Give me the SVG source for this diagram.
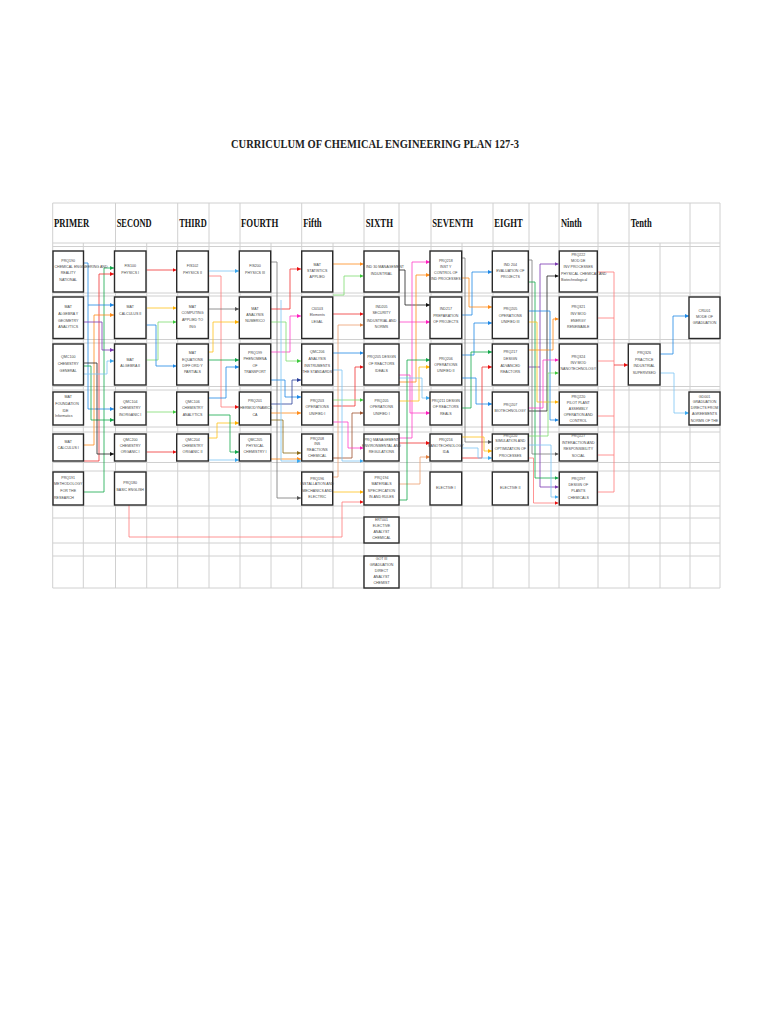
<svg xmlns="http://www.w3.org/2000/svg" width="768" height="1024" viewBox="0 0 768 1024">
<style>
.bg{fill:#ffffff}
.g{stroke:#d0d0d0;stroke-width:1;fill:none}
.box{fill:#ffffff;stroke:#2a2a2a;stroke-width:1.4}
.t{font-family:"Liberation Sans",Arial,sans-serif;font-size:3.6px;fill:#444444;text-anchor:middle}
.tl{text-anchor:start}
.h{font-family:"Liberation Serif","Times New Roman",serif;font-weight:bold;font-size:13.5px;fill:#111111}
.title{font-family:"Liberation Serif","Times New Roman",serif;font-weight:bold;font-size:13px;fill:#222222}
.c{fill:none;stroke-width:0.8}
.red{stroke:#f03030;marker-end:url(#a-red)}
.pink{stroke:#ff7a7a;marker-end:url(#a-red)}
.blue{stroke:#1e88e5;marker-end:url(#a-blue)}
.lblue{stroke:#7cc4f4;marker-end:url(#a-lblue)}
.navy{stroke:#2a3f9a;marker-end:url(#a-navy)}
.green{stroke:#12a84a;marker-end:url(#a-green)}
.lgreen{stroke:#7ddc6e;marker-end:url(#a-lgreen)}
.orange{stroke:#ff8c1a;marker-end:url(#a-orange)}
.salmon{stroke:#eca070;marker-end:url(#a-salmon)}
.brown{stroke:#a0522d;marker-end:url(#a-brown)}
.olive{stroke:#8b6a14;marker-end:url(#a-olive)}
.yellow{stroke:#ffc21a;marker-end:url(#a-yellow)}
.magenta{stroke:#ff40c8;marker-end:url(#a-magenta)}
.purple{stroke:#7a36b0;marker-end:url(#a-purple)}
.black{stroke:#222222;marker-end:url(#a-black)}
.gray{stroke:#777777;marker-end:url(#a-gray)}
.nm{marker-end:none}
</style>
<defs>
<marker id="a-red" markerUnits="userSpaceOnUse" markerWidth="4" markerHeight="4" refX="4" refY="2" orient="auto"><path d="M0,0 L4,2 L0,4 z" fill="#e81010"/></marker>
<marker id="a-blue" markerUnits="userSpaceOnUse" markerWidth="4" markerHeight="4" refX="4" refY="2" orient="auto"><path d="M0,0 L4,2 L0,4 z" fill="#1e88e5"/></marker>
<marker id="a-lblue" markerUnits="userSpaceOnUse" markerWidth="4" markerHeight="4" refX="4" refY="2" orient="auto"><path d="M0,0 L4,2 L0,4 z" fill="#3aa8f0"/></marker>
<marker id="a-navy" markerUnits="userSpaceOnUse" markerWidth="4" markerHeight="4" refX="4" refY="2" orient="auto"><path d="M0,0 L4,2 L0,4 z" fill="#2a3f9a"/></marker>
<marker id="a-green" markerUnits="userSpaceOnUse" markerWidth="4" markerHeight="4" refX="4" refY="2" orient="auto"><path d="M0,0 L4,2 L0,4 z" fill="#12a84a"/></marker>
<marker id="a-lgreen" markerUnits="userSpaceOnUse" markerWidth="4" markerHeight="4" refX="4" refY="2" orient="auto"><path d="M0,0 L4,2 L0,4 z" fill="#3cc83c"/></marker>
<marker id="a-orange" markerUnits="userSpaceOnUse" markerWidth="4" markerHeight="4" refX="4" refY="2" orient="auto"><path d="M0,0 L4,2 L0,4 z" fill="#ff8c1a"/></marker>
<marker id="a-salmon" markerUnits="userSpaceOnUse" markerWidth="4" markerHeight="4" refX="4" refY="2" orient="auto"><path d="M0,0 L4,2 L0,4 z" fill="#e08040"/></marker>
<marker id="a-brown" markerUnits="userSpaceOnUse" markerWidth="4" markerHeight="4" refX="4" refY="2" orient="auto"><path d="M0,0 L4,2 L0,4 z" fill="#a0522d"/></marker>
<marker id="a-olive" markerUnits="userSpaceOnUse" markerWidth="4" markerHeight="4" refX="4" refY="2" orient="auto"><path d="M0,0 L4,2 L0,4 z" fill="#8b6a14"/></marker>
<marker id="a-yellow" markerUnits="userSpaceOnUse" markerWidth="4" markerHeight="4" refX="4" refY="2" orient="auto"><path d="M0,0 L4,2 L0,4 z" fill="#ffb000"/></marker>
<marker id="a-magenta" markerUnits="userSpaceOnUse" markerWidth="4" markerHeight="4" refX="4" refY="2" orient="auto"><path d="M0,0 L4,2 L0,4 z" fill="#ff20c0"/></marker>
<marker id="a-purple" markerUnits="userSpaceOnUse" markerWidth="4" markerHeight="4" refX="4" refY="2" orient="auto"><path d="M0,0 L4,2 L0,4 z" fill="#7a36b0"/></marker>
<marker id="a-black" markerUnits="userSpaceOnUse" markerWidth="4" markerHeight="4" refX="4" refY="2" orient="auto"><path d="M0,0 L4,2 L0,4 z" fill="#111111"/></marker>
<marker id="a-gray" markerUnits="userSpaceOnUse" markerWidth="4" markerHeight="4" refX="4" refY="2" orient="auto"><path d="M0,0 L4,2 L0,4 z" fill="#555555"/></marker>
</defs>
<rect class="bg" x="0" y="0" width="768" height="1024"/>
<text class="title" x="231" y="148" textLength="288" lengthAdjust="spacingAndGlyphs">CURRICULUM OF CHEMICAL ENGINEERING PLAN 127-3</text>
<g id="grid">
<path class="g" d="M52.7,203 H720 M52.7,243 H720 M52.7,246.5 H720 M52.7,293 H720 M52.7,296 H720 M52.7,339.5 H720 M52.7,343 H720 M52.7,386.5 H720 M52.7,390 H720 M52.7,427 H720 M52.7,432 H720 M52.7,462.5 H720 M52.7,471 H720 M52.7,506 H720 M52.7,518 H720 M52.7,543 H720 M52.7,556 H720 M52.7,588 H720"/>
<path class="g" d="M52.7,203 V588 M115.5,203 V588 M177.7,203 V588 M209,203 V588 M240,203 V588 M301.7,203 V588 M364,203 V588 M399,203 V588 M431,203 V588 M493,203 V588 M529,203 V588 M559,203 V588 M598,203 V588 M629,203 V588 M690,203 V588 M720,203 V588"/>
<path class="g" d="M83.3,243 V588 M146.7,243 V588 M271,243 V588 M333,243 V588 M462,243 V588 M660,243 V588"/>
</g>
<g id="headers">
<text class="h" x="54" y="226.5" textLength="35.3" lengthAdjust="spacingAndGlyphs">PRIMER</text>
<text class="h" x="116.7" y="226.5" textLength="35" lengthAdjust="spacingAndGlyphs">SECOND</text>
<text class="h" x="179.3" y="226.5" textLength="27.4" lengthAdjust="spacingAndGlyphs">THIRD</text>
<text class="h" x="241" y="226.5" textLength="37.3" lengthAdjust="spacingAndGlyphs">FOURTH</text>
<text class="h" x="303.3" y="226.5" textLength="18.4" lengthAdjust="spacingAndGlyphs">Fifth</text>
<text class="h" x="365.7" y="226.5" textLength="27.3" lengthAdjust="spacingAndGlyphs">SIXTH</text>
<text class="h" x="432.3" y="226.5" textLength="41" lengthAdjust="spacingAndGlyphs">SEVENTH</text>
<text class="h" x="494.3" y="226.5" textLength="28.4" lengthAdjust="spacingAndGlyphs">EIGHT</text>
<text class="h" x="561" y="226.5" textLength="20.7" lengthAdjust="spacingAndGlyphs">Ninth</text>
<text class="h" x="630.7" y="226.5" textLength="21" lengthAdjust="spacingAndGlyphs">Tenth</text>
</g>
<g id="connectors">
<path class="c green" d="M84,492 H104 V268 H114"/>
<path class="c red" d="M84,461 H99 V274 H114"/>
<path class="c blue" d="M84,263 H88 V305 H114"/>
<path class="c blue" d="M88,305 V409 H114"/>
<path class="c orange" d="M84,445 H94 V315 H114"/>
<path class="c purple" d="M84,322 H102 V350 H114"/>
<path class="c green" d="M84,366 H91 V420 H114"/>
<path class="c black" d="M84,363 H97 V454 H114"/>
<path class="c lblue" d="M84,374 H107 V361 H114"/>
<path class="c red" d="M146.7,270 H176.5"/>
<path class="c yellow" d="M146.7,308 H176.5"/>
<path class="c lgreen" d="M146.7,360 H158 V322 H176.5"/>
<path class="c blue" d="M146.7,325 H156 V366 H176.5"/>
<path class="c lgreen" d="M146.7,412 H176.5"/>
<path class="c red" d="M146.7,452 H176.5"/>
<path class="c pink" d="M129,505 V537 H342 V502 H363.5"/>
<path class="c lblue" d="M209,271 H239"/>
<path class="c pink" d="M209,276 H221 V407 H239"/>
<path class="c gray" d="M209,309 H239"/>
<path class="c yellow" d="M209,352 H213 V322 H239"/>
<path class="c green" d="M209,360 H239"/>
<path class="c blue" d="M209,398 H226 V367 H239"/>
<path class="c yellow" d="M209,438 H217 V423 H239"/>
<path class="c green" d="M209,415 H230 V452 H239"/>
<path class="c lblue" d="M209,460 H239"/>
<path class="c gray" d="M271,262 H277 V498 H301"/>
<path class="c red" d="M271,309 H290 V269 H301"/>
<path class="c magenta" d="M271,352 H290 V316 H301"/>
<path class="c lgreen" d="M271,322 H286 V361 H301"/>
<path class="c blue" d="M271,380 H285 V397 H301"/>
<path class="c navy" d="M271,404 H292 V380 H301"/>
<path class="c orange" d="M271,413 H301"/>
<path class="c olive" d="M271,420 H283 V453 H301"/>
<path class="c orange" d="M271,459 H301"/>
<path class="c lblue" d="M281,300 V461 H301"/>
<path class="c orange" d="M333,264 H363.5"/>
<path class="c lgreen" d="M333,295 H344 V276 H363.5"/>
<path class="c red" d="M333,314 H363.5"/>
<path class="c salmon" d="M333,477 H338 V325 H363.5"/>
<path class="c blue" d="M333,353 H363.5"/>
<path class="c red" d="M333,406 H355 V367 H363.5"/>
<path class="c lgreen" d="M333,400 H363.5"/>
<path class="c brown" d="M333,458 H352 V413 H363.5"/>
<path class="c magenta" d="M333,422 H348 V448 H363.5"/>
<path class="c lblue" d="M333,370 H342 V461 H363.5"/>
<path class="c yellow" d="M333,492 H363.5"/>
<path class="c black" d="M399,270 H405 V305 H430"/>
<path class="c magenta" d="M399,322 H430"/>
<path class="c magenta" d="M399,438 H412 V262 H430"/>
<path class="c orange" d="M399,382 H416 V275 H430"/>
<path class="c salmon" d="M399,484 H420 V457 H430"/>
<path class="c red" d="M399,443 H430"/>
<path class="c green" d="M399,500 H407 V360 H430"/>
<path class="c yellow" d="M399,401 H419 V367 H430"/>
<path class="c magenta" d="M399,375 H410 V413 H430"/>
<path class="c lblue" d="M399,378 H422 V398 H430"/>
<path class="c blue" d="M462,315 H472 V272 H492"/>
<path class="c orange" d="M462,278 H469 V307 H492"/>
<path class="c blue" d="M462,355 H474 V323 H492"/>
<path class="c gray" d="M462,258 H465 V442 H492"/>
<path class="c green" d="M462,408 H471 V352 H492"/>
<path class="c red" d="M462,458 H482 V367 H492"/>
<path class="c blue" d="M462,378 H476 V404 H492"/>
<path class="c lblue" d="M462,448 H478 V458 H492"/>
<path class="c yellow" d="M462,437 H484 V451 H492"/>
<path class="c purple" d="M529,367 H540 V264 H558.5"/>
<path class="c purple" d="M540,367 V487 H558.5"/>
<path class="c black" d="M529,411 H547 V276 H558.5"/>
<path class="c gray" d="M529,260 H532 V454 H558.5"/>
<path class="c green" d="M529,282 H535 V478 H558.5"/>
<path class="c orange" d="M529,350 H553 V319 H558.5"/>
<path class="c yellow" d="M529,322 H537 V402 H558.5"/>
<path class="c blue" d="M529,311 H550 V420 H558.5"/>
<path class="c magenta" d="M529,408 H543 V360 H558.5"/>
<path class="c lgreen" d="M529,436 H548 V373 H558.5"/>
<path class="c lblue" d="M529,445 H551 V497 H558.5"/>
<path class="c pink" d="M529,458 H533.5 V503 H558.5"/>
<path class="c pink nm" d="M598,272 H614 M598,318 H614 M598,361 H614 M598,416 H614 M598,455 H614 M598,492 H614 M614,272 V492"/>
<path class="c red" d="M614,365 H628"/>
<path class="c blue" d="M660,354 H673 V316 H689"/>
<path class="c lblue" d="M660,373 H674 V413 H689"/>
</g>
<g id="n-prq190"><rect class="box" x="53" y="251" width="30.5" height="41"/><text class="t" x="68.2" y="261.7">PRQ190</text><text class="t tl" x="54.5" y="267.7">CHEMICAL ENGINEERING AND</text><text class="t" x="68.2" y="274.3">REALITY</text><text class="t" x="68.2" y="281">NATIONAL</text></g>
<g id="n-fis100"><rect class="box" x="114.5" y="251" width="31.5" height="41"/><text class="t" x="130.2" y="267.3">FIS100</text><text class="t" x="130.2" y="274">PHYSICS I</text></g>
<g id="n-fis102"><rect class="box" x="176.7" y="251" width="31.6" height="41"/><text class="t" x="192.5" y="267.3">FIS102</text><text class="t" x="192.5" y="274">PHYSICS II</text></g>
<g id="n-fis200"><rect class="box" x="239.3" y="251" width="31.4" height="41"/><text class="t" x="255" y="267.3">FIS200</text><text class="t" x="255" y="274">PHYSICS III</text></g>
<g id="n-stat"><rect class="box" x="301.7" y="251" width="31" height="41"/><text class="t" x="317.2" y="265.7">MAT</text><text class="t" x="317.2" y="271.7">STATISTICS</text><text class="t" x="317.2" y="278.3">APPLIED</text></g>
<g id="n-ind-mgmt"><rect class="box" x="364" y="251" width="35" height="41"/><text class="t tl" x="366" y="267.7">IND 30 MANAGEMENT</text><text class="t" x="381.5" y="274.5">INDUSTRIAL</text></g>
<g id="n-prq218"><rect class="box" x="430" y="251" width="31.7" height="41"/><text class="t" x="445.8" y="261.7">PRQ218</text><text class="t" x="445.8" y="267.7">INST Y</text><text class="t" x="445.8" y="274">CONTROL OF</text><text class="t" x="445.8" y="280.3">IND PROCESSES</text></g>
<g id="n-ind204"><rect class="box" x="492.3" y="251" width="36" height="41"/><text class="t" x="510.3" y="265.7">IND 204</text><text class="t" x="510.3" y="271.7">EVALUATION OF</text><text class="t" x="510.3" y="278.3">PROJECTS</text></g>
<g id="n-prq222"><rect class="box" x="559.3" y="251" width="38" height="41"/><text class="t" x="578.3" y="256">PRQ222</text><text class="t" x="578.3" y="261.7">MOD DE</text><text class="t" x="578.3" y="267.7">INV PROCESSES</text><text class="t tl" x="561" y="275">PHYSICAL CHEMICAL AND</text><text class="t tl" x="561" y="281">Biotechnological</text></g>
<g id="n-algebra-geo"><rect class="box" x="53" y="297" width="30.5" height="41.5"/><text class="t" x="68.2" y="308.3">MAT</text><text class="t" x="68.2" y="315">ALGEBRA Y</text><text class="t" x="68.2" y="321.7">GEOMETRY</text><text class="t" x="68.2" y="327.5">ANALYTICS</text></g>
<g id="n-calc2"><rect class="box" x="114.5" y="297" width="31.5" height="41.5"/><text class="t" x="130.2" y="308.3">MAT</text><text class="t" x="130.2" y="314.5">CALCULUS II</text></g>
<g id="n-computing"><rect class="box" x="176.7" y="297" width="31.6" height="41.5"/><text class="t" x="192.5" y="308">MAT</text><text class="t" x="192.5" y="314">COMPUTING</text><text class="t" x="192.5" y="321">APPLIED TO</text><text class="t" x="192.5" y="328">ING</text></g>
<g id="n-numerical"><rect class="box" x="239.3" y="297" width="31.4" height="41.5"/><text class="t" x="255" y="310">MAT</text><text class="t" x="255" y="316">ANALYSIS</text><text class="t" x="255" y="322">NUMERICO</text></g>
<g id="n-ci0103"><rect class="box" x="301.7" y="297" width="31" height="41.5"/><text class="t" x="317.2" y="310">CI0103</text><text class="t" x="317.2" y="316">Elements</text><text class="t" x="317.2" y="323.3">LEGAL</text></g>
<g id="n-ind205"><rect class="box" x="364" y="297" width="35" height="41.5"/><text class="t" x="381.5" y="308">IND205</text><text class="t" x="381.5" y="314">SECURITY</text><text class="t" x="381.5" y="321.7">INDUSTRIAL AND</text><text class="t" x="381.5" y="328.3">NORMS</text></g>
<g id="n-ind217"><rect class="box" x="430" y="297" width="31.7" height="41.5"/><text class="t" x="445.8" y="310">IND217</text><text class="t" x="445.8" y="316.7">PREPARATION</text><text class="t" x="445.8" y="323.3">OF PROJECTS</text></g>
<g id="n-ops3"><rect class="box" x="492.3" y="297" width="36" height="41.5"/><text class="t" x="510.3" y="310">PRQ205</text><text class="t" x="510.3" y="316.7">OPERATIONS</text><text class="t" x="510.3" y="323.3">UNIFIED III</text></g>
<g id="n-prq321"><rect class="box" x="559.3" y="297" width="38" height="41.5"/><text class="t" x="578.3" y="308.3">PRQ321</text><text class="t" x="578.3" y="315">INV MOD</text><text class="t" x="578.3" y="321.7">ENERGY</text><text class="t" x="578.3" y="328.3">RENEWABLE</text></g>
<g id="n-cru01"><rect class="box" x="689" y="297" width="31" height="41.5"/><text class="t" x="704.5" y="311.7">CRU01</text><text class="t" x="704.5" y="318.3">MODE OF</text><text class="t" x="704.5" y="324">GRADUATION</text></g>
<g id="n-qmc100"><rect class="box" x="53" y="344" width="30.5" height="41"/><text class="t" x="68.2" y="358.3">QMC100</text><text class="t" x="68.2" y="365">CHEMISTRY</text><text class="t" x="68.2" y="371.7">GENERAL</text></g>
<g id="n-algebra2"><rect class="box" x="114.5" y="344" width="31.5" height="41"/><text class="t" x="130.2" y="360.7">MAT</text><text class="t" x="130.2" y="367.3">ALGEBRA II</text></g>
<g id="n-equations"><rect class="box" x="176.7" y="344" width="31.6" height="41"/><text class="t" x="192.5" y="354">MAT</text><text class="t" x="192.5" y="360.7">EQUATIONS</text><text class="t" x="192.5" y="366.7">DIFF ORD Y</text><text class="t" x="192.5" y="372.7">PARTIALS</text></g>
<g id="n-prq199"><rect class="box" x="239.3" y="344" width="31.4" height="41"/><text class="t" x="255" y="354">PRQ199</text><text class="t" x="255" y="360">PHENOMENA</text><text class="t" x="255" y="366.7">OF</text><text class="t" x="255" y="373.3">TRANSPORT</text></g>
<g id="n-qmc206"><rect class="box" x="301.7" y="344" width="31" height="41"/><text class="t" x="317.2" y="353.3">QMC206</text><text class="t" x="317.2" y="360">ANALYSIS</text><text class="t" x="317.2" y="367.3">INSTRUMENTS</text><text class="t" x="317.2" y="373.3">THE STANDARDS</text></g>
<g id="n-reactors-ideal"><rect class="box" x="364" y="344" width="35" height="41"/><text class="t" x="381.5" y="358.3">PRQ205 DESIGN</text><text class="t" x="381.5" y="365">OF REACTORS</text><text class="t" x="381.5" y="371.7">IDEALS</text></g>
<g id="n-ops2"><rect class="box" x="430" y="344" width="31.7" height="41"/><text class="t" x="445.8" y="360">PRQ206</text><text class="t" x="445.8" y="366">OPERATIONS</text><text class="t" x="445.8" y="371.7">UNIFIED II</text></g>
<g id="n-prq217"><rect class="box" x="492.3" y="344" width="36" height="41"/><text class="t" x="510.3" y="353.3">PRQ217</text><text class="t" x="510.3" y="360">DESIGN</text><text class="t" x="510.3" y="366.7">ADVANCED</text><text class="t" x="510.3" y="373.3">REACTORS</text></g>
<g id="n-prq324"><rect class="box" x="559.3" y="344" width="38" height="41"/><text class="t" x="578.3" y="358.3">PRQ324</text><text class="t" x="578.3" y="364">INV MOD</text><text class="t" x="578.3" y="370">NANOTECHNOLOGY</text></g>
<g id="n-prq326"><rect class="box" x="628.3" y="344" width="31.7" height="41"/><text class="t" x="644.2" y="354">PRQ326</text><text class="t" x="644.2" y="360.7">PRACTICE</text><text class="t" x="644.2" y="367.3">INDUSTRIAL</text><text class="t" x="644.2" y="374">SUPERVISED</text></g>
<g id="n-foundation"><rect class="box" x="53" y="392" width="30.5" height="33"/><text class="t" x="68.2" y="398.3">MAT</text><text class="t" x="67" y="405">FOUNDATION</text><text class="t" x="65.5" y="411.7">IDE</text><text class="t tl" x="55" y="417.3">Informatics</text></g>
<g id="n-qmc104"><rect class="box" x="114.5" y="392" width="31.5" height="33"/><text class="t" x="130.2" y="403.3">QMC104</text><text class="t" x="130.2" y="409.3">CHEMISTRY</text><text class="t" x="130.2" y="415.7">INORGANIC I</text></g>
<g id="n-qmc106"><rect class="box" x="176.7" y="392" width="31.6" height="33"/><text class="t" x="192.5" y="403.3">QMC106</text><text class="t" x="192.5" y="409.3">CHEMISTRY</text><text class="t" x="192.5" y="415.7">ANALYTICS</text></g>
<g id="n-prq201"><rect class="box" x="239.3" y="392" width="31.4" height="33"/><text class="t" x="255" y="401.7">PRQ201</text><text class="t" x="255" y="409.3">THERMODYNAMICS</text><text class="t" x="255" y="415.7">CA</text></g>
<g id="n-prq203"><rect class="box" x="301.7" y="392" width="31" height="33"/><text class="t" x="317.2" y="401.7">PRQ203</text><text class="t" x="317.2" y="408.3">OPERATIONS</text><text class="t" x="317.2" y="415">UNIFIED I</text></g>
<g id="n-ops1"><rect class="box" x="364" y="392" width="35" height="33"/><text class="t" x="381.5" y="401.7">PRQ205</text><text class="t" x="381.5" y="408.3">OPERATIONS</text><text class="t" x="381.5" y="415">UNIFIED I</text></g>
<g id="n-reactors-real"><rect class="box" x="430" y="392" width="31.7" height="33"/><text class="t" x="445.8" y="401.7">PRQ211 DESIGN</text><text class="t" x="445.8" y="408.3">OF REACTORS</text><text class="t" x="445.8" y="415">REALS</text></g>
<g id="n-prq207"><rect class="box" x="492.3" y="392" width="36" height="33"/><text class="t" x="510.3" y="405.7">PRQ207</text><text class="t" x="510.3" y="411.7">BIOTECHNOLOGY</text></g>
<g id="n-pilot"><rect class="box" x="559.3" y="392" width="38" height="33"/><text class="t" x="578.3" y="398">PRQ220</text><text class="t" x="578.3" y="404">PILOT PLANT</text><text class="t" x="578.3" y="410">ASSEMBLY</text><text class="t" x="578.3" y="415.7">OPERATION AND</text><text class="t" x="578.3" y="421.7">CONTROL</text></g>
<g id="n-gd001"><rect class="box" x="689" y="392" width="31" height="33"/><text class="t" x="704.5" y="397.7">GD001</text><text class="t" x="704.5" y="403.3">GRADUATION</text><text class="t" x="704.5" y="409">DIRECTS FROM</text><text class="t" x="704.5" y="415">AGREEMENTS</text><text class="t" x="704.5" y="421.7">NORMS OF THE</text></g>
<g id="n-calc1"><rect class="box" x="53" y="434" width="30.5" height="27"/><text class="t" x="68.2" y="443.3">MAT</text><text class="t" x="68.2" y="449.3">CALCULUS I</text></g>
<g id="n-qmc200"><rect class="box" x="114.5" y="434" width="31.5" height="27"/><text class="t" x="130.2" y="441">QMC200</text><text class="t" x="130.2" y="447.3">CHEMISTRY</text><text class="t" x="130.2" y="453.3">ORGANIC I</text></g>
<g id="n-qmc204"><rect class="box" x="176.7" y="434" width="31.6" height="27"/><text class="t" x="192.5" y="441">QMC204</text><text class="t" x="192.5" y="447.3">CHEMISTRY</text><text class="t" x="192.5" y="453.3">ORGANIC II</text></g>
<g id="n-qmc205"><rect class="box" x="239.3" y="434" width="31.4" height="27"/><text class="t" x="255" y="441">QMC205</text><text class="t" x="255" y="447.3">PHYSICAL</text><text class="t" x="255" y="453.3">CHEMISTRY I</text></g>
<g id="n-prq208"><rect class="box" x="301.7" y="434" width="31" height="27"/><text class="t" x="317.2" y="440">PRQ208</text><text class="t" x="317.2" y="445">INS</text><text class="t" x="317.2" y="450.7">REACTIONS</text><text class="t" x="317.2" y="456.7">CHEMICAL</text></g>
<g id="n-env"><rect class="box" x="364" y="434" width="35" height="27"/><text class="t" x="381.5" y="441">PRQ MANAGEMENT</text><text class="t" x="381.5" y="447.3">ENVIRONMENTAL AND</text><text class="t" x="381.5" y="453.3">REGULATIONS</text></g>
<g id="n-prq216"><rect class="box" x="430" y="434" width="31.7" height="27"/><text class="t" x="445.8" y="441">PRQ216</text><text class="t" x="445.8" y="447.3">NANOTECHNOLOGY</text><text class="t" x="445.8" y="453.3">IDA</text></g>
<g id="n-simulation"><rect class="box" x="492.3" y="434" width="36" height="27"/><text class="t" x="510.3" y="436.5">PRQ220</text><text class="t" x="510.3" y="442">SIMULATION AND</text><text class="t" x="510.3" y="450">OPTIMIZATION OF</text><text class="t" x="510.3" y="456.7">PROCESSES</text></g>
<g id="n-prq227"><rect class="box" x="559.3" y="434" width="38" height="27"/><text class="t" x="578.3" y="437">PRQ227</text><text class="t" x="578.3" y="444">INTERACTION AND</text><text class="t" x="578.3" y="450">RESPONSIBILITY</text><text class="t" x="578.3" y="456.7">SOCIAL</text></g>
<g id="n-prq191"><rect class="box" x="53" y="472" width="30.5" height="33"/><text class="t" x="68.2" y="479">PRQ191</text><text class="t" x="68.2" y="485">METHODOLOGY</text><text class="t" x="68.2" y="491.7">FOR THE</text><text class="t tl" x="54" y="499">RESEARCH</text></g>
<g id="n-prq180"><rect class="box" x="114.5" y="472" width="31.5" height="33"/><text class="t" x="130.2" y="484.3">PRQ180</text><text class="t" x="130.2" y="491">BASIC ENGLISH</text></g>
<g id="n-prq196"><rect class="box" x="301.7" y="472" width="31" height="33"/><text class="t" x="317.2" y="480">PRQ196</text><text class="t" x="317.2" y="485.3">INSTALLATION AND</text><text class="t" x="317.2" y="491.7">MECHANICS AND</text><text class="t" x="317.2" y="498.3">ELECTRIC</text></g>
<g id="n-prq194"><rect class="box" x="364" y="472" width="35" height="33"/><text class="t" x="381.5" y="479">PRQ194</text><text class="t" x="381.5" y="485">MATERIALS</text><text class="t" x="381.5" y="491.7">SPECIFICATION</text><text class="t" x="381.5" y="498.3">IN AND RULES</text></g>
<g id="n-elective1"><rect class="box" x="430" y="472" width="31.7" height="33"/><text class="t" x="445.8" y="489">ELECTIVE I</text></g>
<g id="n-elective2"><rect class="box" x="492.3" y="472" width="36" height="33"/><text class="t" x="510.3" y="489">ELECTIVE II</text></g>
<g id="n-prq297"><rect class="box" x="559.3" y="472" width="38" height="33"/><text class="t" x="578.3" y="480">PRQ297</text><text class="t" x="578.3" y="485.7">DESIGN OF</text><text class="t" x="578.3" y="491.7">PLANTS</text><text class="t" x="578.3" y="499">CHEMICALS</text></g>
<g id="n-ert001"><rect class="box" x="364" y="517" width="35" height="26"/><text class="t" x="381.5" y="521">ERT001</text><text class="t" x="381.5" y="526.8">ELECTIVE</text><text class="t" x="381.5" y="533">ANALYST</text><text class="t" x="381.5" y="539">CHEMICAL</text></g>
<g id="n-got"><rect class="box" x="364" y="556" width="35" height="32"/><text class="t" x="381.5" y="559.5">GOT III</text><text class="t" x="381.5" y="565.5">GRADUATION</text><text class="t" x="381.5" y="571.5">DIRECT</text><text class="t" x="381.5" y="577.5">ANALYST</text><text class="t" x="381.5" y="584">CHEMIST</text></g>
</svg>
